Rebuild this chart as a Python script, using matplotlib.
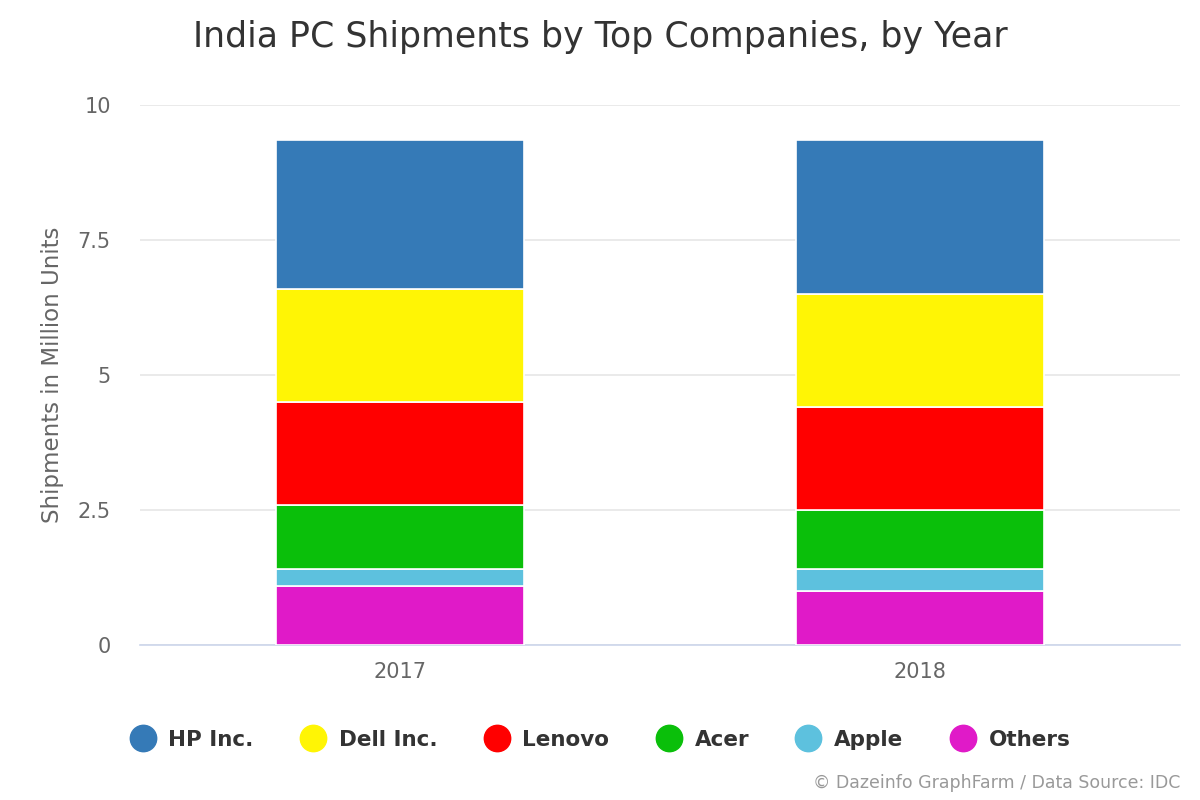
import numpy as np
import matplotlib.pyplot as plt
from matplotlib.lines import Line2D

# data (million units)
years = ['2017', '2018']
companies = ['HP Inc.', 'Dell Inc.', 'Lenovo', 'Acer', 'Apple', 'Others']
colors = ['#357ab7', '#fff505', '#ff0000', '#0abf0a', '#5dc1de', '#e01ac8']
others = [1.1, 1.0]
apple = [0.3, 0.4]
acer = [1.2, 1.1]
lenovo = [1.9, 1.9]
dell = [2.1, 2.1]
hp = [2.75, 2.85]

# stack order bottom -> top
stack = [others, apple, acer, lenovo, dell, hp]
stack_colors = ['#e01ac8', '#5dc1de', '#0abf0a', '#ff0000', '#fff505', '#357ab7']

plt.rcParams['font.family'] = ['DejaVu Sans']

fig = plt.figure(figsize=(12, 8), dpi=100)
ax = fig.add_axes([140 / 1200, 1 - 645 / 800, 1040 / 1200, 540 / 800])

x = np.arange(len(years))
bottom = np.zeros(len(years))
for vals, c in zip(stack, stack_colors):
    ax.bar(x, vals, bottom=bottom, width=0.477, color=c, edgecolor='white', linewidth=1.2, zorder=3)
    bottom += np.array(vals)

ax.set_xlim(-0.5, 1.5)
ax.set_ylim(0, 10)
ax.set_yticks([0, 2.5, 5, 7.5, 10])
ax.set_yticklabels(['0', '2.5', '5', '7.5', '10'])
ax.set_xticks(x)
ax.set_xticklabels(years)
ax.tick_params(axis='both', length=0, labelsize=15, colors='#666666')
ax.tick_params(axis='y', pad=21)
ax.tick_params(axis='x', pad=12)
ax.grid(axis='y', color='#e6e6e6', linewidth=1.2, zorder=0)
for s in ['top', 'right', 'left']:
    ax.spines[s].set_visible(False)
ax.spines['bottom'].set_color('#ccd6eb')
ax.spines['bottom'].set_linewidth(1.2)

ax.set_ylabel('Shipments in Million Units', fontsize=16.5, color='#666666', labelpad=10)

fig.text(0.5, 1 - 37 / 800, 'India PC Shipments by Top Companies, by Year',
         ha='center', va='center', fontsize=25, color='#333333')

handles = [Line2D([], [], marker='o', linestyle='', markersize=19, color=c) for c in colors]
fig.legend(handles, companies, loc='center', bbox_to_anchor=(0.5, 1 - 740 / 800), ncol=6,
           frameon=False, prop={'weight': 'bold', 'size': 15.5}, labelcolor='#333333',
           handletextpad=0.6, columnspacing=2.15, handlelength=1.2)

fig.text(1180 / 1200, 1 - 783 / 800, '\u00a9 Dazeinfo GraphFarm / Data Source: IDC',
         ha='right', va='center', fontsize=12.5, color='#999999')

fig.savefig('out.png', dpi=100)
